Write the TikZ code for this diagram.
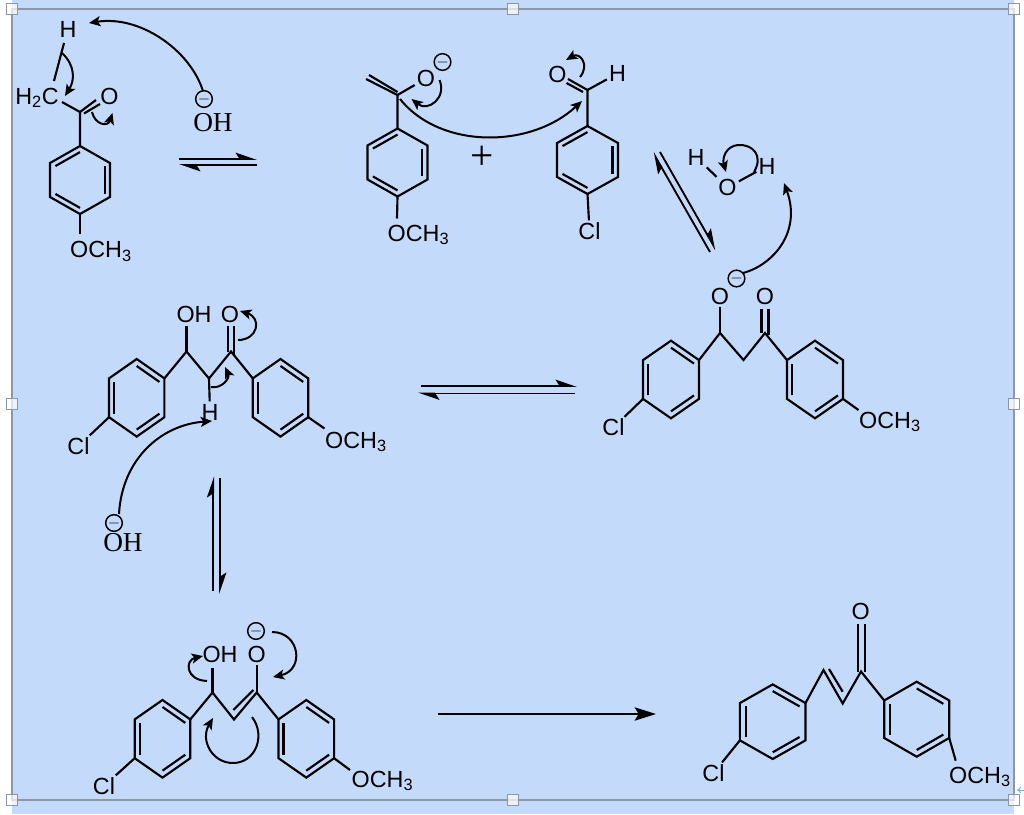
\documentclass[tikz,border=0pt]{standalone}
\usepackage{fontspec}
\setmainfont{Liberation Sans}
\newfontfamily\reagentfont{Liberation Serif}
\usepackage{xcolor}
\usepackage{tikz}
\usetikzlibrary{arrows.meta, calc, shapes.geometric}
\definecolor{panelblue}{HTML}{C4DAFA}
\definecolor{framegray}{HTML}{8C96A6}
\definecolor{cuemark}{HTML}{6FB0F5}
\tikzstyle{bond}    = [line width=1.6pt, line join=miter]
\tikzstyle{curly}   = [line width=1.5pt, -{Stealth[length=8.5pt,width=7.5pt,inset=2pt]}]
\tikzstyle{eqline}  = [line width=1.4pt, -{Stealth[harpoon,length=14pt,width=9.5pt,inset=3pt]}]
\tikzstyle{fwd}     = [line width=1.4pt, -{Stealth[length=16pt,width=10pt,inset=3pt]}]
\tikzset{atom/.style={font=\fontsize{17.5}{20}\selectfont, inner sep=1.5pt, text height=12.5pt, text depth=0pt}}
\tikzset{reagent/.style={font=\reagentfont\fontsize{20.5}{22}\selectfont, inner sep=0pt, text height=13.5pt, text depth=0pt}}
\tikzset{charge/.style={circle, draw, line width=1.1pt, inner sep=0pt, minimum size=12.5pt, font=\fontsize{12}{12}\selectfont}}
\tikzset{handle/.style={draw=framegray, line width=1pt, fill=white, fill opacity=.7, minimum size=8.5pt, inner sep=0pt}}
% ring: name, centre x, centre y, half width, half height, inner edges
\newcommand{\ring}[6]{
  \coordinate (#1) at (#2,#3);
  \coordinate (#1a) at (#2,#3-#5);
  \coordinate (#1b) at (#2+#4,#3-#5/2);
  \coordinate (#1c) at (#2+#4,#3+#5/2);
  \coordinate (#1d) at (#2,#3+#5);
  \coordinate (#1e) at (#2-#4,#3+#5/2);
  \coordinate (#1f) at (#2-#4,#3-#5/2);
  \draw[bond] (#1a) -- (#1b) -- (#1c) -- (#1d) -- (#1e) -- (#1f) -- cycle;
  \foreach \p/\q in {#6}
    \draw[bond] ($(#1)!.82!(#1\p)$) -- ($(#1)!.82!(#1\q)$);
}

\begin{document}
\begin{tikzpicture}[x=0.75pt, y=-0.75pt]
  \useasboundingbox (0,0) rectangle (1024,814);
  % Panel
  \fill[white] (0,0) rectangle (1024,814);
  \fill[panelblue] (12,0) rectangle (1014,814);
  \draw[framegray, line width=1.1pt] (12,9) rectangle (1014,800);
  \foreach \hx/\hy [count=\i] in {12/9,513/9,1014/9,12/404,1014/404,12/800,513/800,1014/800}
      \node[handle] (handle\i) at (\hx,\hy) {};
  \coordinate (cuea) at (1024,790); \coordinate (cueb) at (1017,790);
  \draw[cuemark, line width=.7pt, -{To[length=3pt,width=5pt]}] (cuea) -- (cueb);

  % Molecule 1: acetophenone
  \ring{ra}{80}{180}{30}{34}{f/a,b/c,d/e}
  \coordinate (ca) at (80,112); \coordinate (caq) at (62,102);
  \coordinate (caoa) at (96,100); \coordinate (caob) at (84,113.5); \coordinate (caoc) at (100,104);
  \coordinate (hba) at (54,81); \coordinate (hbb) at (64,43); \coordinate (mea) at (80,234);
  \node[atom] (hatom) at (68,29) {H};
  \node[atom] (chtwo) at (37,96) {H\textsubscript{2}C};
  \node[atom] (oa) at (109.5,96) {O};
  \node[atom] (ocha) at (101,249.5) {OCH\textsubscript{3}};
  \draw[bond] (raa) -- (ca) -- (caq);
  \draw[bond] (ca) -- (caoa); \draw[bond] (caob) -- (caoc);
  \draw[bond] (hba) -- (hbb);
  \draw[bond] (rad) -- (mea);
  % Hydroxide 1
  \node[charge] (mina) at (204,99) {$-$};
  \node[reagent] (ohr) at (213,122) {OH};
  \coordinate (oharr) at (203,91); \coordinate (harr) at (89,23);
  \draw[curly] (oharr) .. controls (190,50) and (140,15) .. (harr);
  \coordinate (cha) at (62,53); \coordinate (chb) at (65,96);
  \draw[curly] (cha) .. controls (75,65) and (75,80) .. (chb);
  \coordinate (coa) at (92,112); \coordinate (cob) at (112.5,113);
  \draw[curly] (coa) .. controls (95,125) and (108,127) .. (cob);
  % Equilibrium 1
  \coordinate (eqa) at (179,159); \coordinate (eqb) at (257,159);
  \coordinate (eqc) at (257,165); \coordinate (eqd) at (179,165);
  \draw[eqline] (eqa) -- (eqb); \draw[eqline] (eqc) -- (eqd);

  % Molecule 2: enolate
  \ring{rb}{397.5}{162.5}{30}{34}{f/a,b/c,d/e}
  \coordinate (cb) at (397.5,95); \coordinate (cba) at (366,79); \coordinate (cbb) at (369,75); \coordinate (cbc) at (397.5,92);
  \coordinate (meb) at (397,218.5);
  \node[atom] (ob) at (426,78.5) {O};
  \node[charge] (minb) at (442.5,62) {$-$};
  \node[atom] (ochb) at (418.5,233) {OCH\textsubscript{3}};
  \draw[bond] (rba) -- (cb) -- (cba); \draw[bond] (cbc) -- (cbb);
  \draw[bond] (cb) -- (ob);
  \draw[bond] (rbd) -- (meb);
  \coordinate (oba) at (439.5,80); \coordinate (obb) at (411.5,99);
  \draw[curly] (oba) .. controls (447,98) and (428,112) .. (obb);
  \coordinate (lga) at (400,99); \coordinate (lgb) at (582,101);
  \draw[curly] (lga) .. controls (440,149) and (530,149) .. (lgb);
  \node[font=\reagentfont\fontsize{31}{31}\selectfont, inner sep=0pt] (plus) at (482.5,158) {+};

  % Molecule 3: aldehyde
  \ring{rc}{587.5}{160}{30.5}{34}{f/a,b/c,d/e}
  \coordinate (cc) at (587.5,90); \coordinate (cca) at (568,79);
  \coordinate (ccb) at (566.5,83); \coordinate (ccc) at (583,92);
  \node[atom] (oc) at (557.5,74.5) {O};
  \node[atom] (hal) at (617.5,73.5) {H};
  \node[atom] (clc) at (589.5,231) {Cl};
  \draw[bond] (rca) -- (cc) -- (cca); \draw[bond] (ccb) -- (ccc);
  \draw[bond] (cc) -- (hal);
  \draw[bond] (rcd) -- (clc);
  \coordinate (oca) at (580,77); \coordinate (ocb) at (566,60);
  \draw[curly] (oca) .. controls (590,65) and (580,52) .. (ocb);
  % Equilibrium 2
  \coordinate (eqe) at (710,252); \coordinate (eqf) at (653,152.5);
  \coordinate (eqg) at (660,152); \coordinate (eqh) at (716,250);
  \draw[eqline] (eqe) -- (eqf); \draw[eqline] (eqg) -- (eqh);
  % Water
  \node[atom] (wha) at (696,157) {H};
  \node[atom] (whb) at (767,166) {H};
  \node[atom] (wo) at (727.5,187.5) {O};
  \draw[bond] (wha) -- (wo); \draw[bond] (wo) -- (whb);
  \coordinate (wa) at (754,172); \coordinate (wb) at (738,145); \coordinate (wc) at (726,172);
  \draw[curly] (wa) .. controls (764,155) and (752,144) .. (wb) .. controls (726,146) and (722,158) .. (wc);

  % Molecule 4: aldol alkoxide
  \ring{rd}{671}{379.5}{28}{38.8}{e/f,a/b,c/d}
  \ring{re}{815}{379.5}{28}{38.8}{e/f,a/b,c/d}
  \coordinate (da) at (720,333); \coordinate (db) at (743.5,360); \coordinate (dc) at (765,333);
  \coordinate (dca) at (761.5,333); \coordinate (dcb) at (761.5,308.5);
  \coordinate (dcc) at (768.5,335); \coordinate (dcd) at (768.5,308.5);
  \coordinate (mee) at (858.5,410);
  \node[atom] (od) at (720,296) {O};
  \node[atom] (oe) at (765,296) {O};
  \node[charge] (mind) at (736.5,278.5) {$-$};
  \node[atom] (cld) at (613.5,427.5) {Cl};
  \node[atom] (oche) at (890,420) {OCH\textsubscript{3}};
  \draw[bond] (rdb) -- (da) -- (db) -- (dc) -- (ref);
  \draw[bond] (da) -- (od);
  \draw[bond] (dca) -- (dcb); \draw[bond] (dcc) -- (dcd);
  \draw[bond] (rde) -- (cld);
  \draw[bond] (rec) -- (mee);
  \coordinate (oda) at (743,273); \coordinate (odb) at (784,183);
  \draw[curly] (oda) .. controls (773,265) and (802,232) .. (odb);
  % Equilibrium 3
  \coordinate (eqi) at (421,386); \coordinate (eqj) at (577,386);
  \coordinate (eqk) at (575,393.5); \coordinate (eql) at (418,393.5);
  \draw[eqline] (eqi) -- (eqj); \draw[eqline] (eqk) -- (eql);

  % Molecule 5: aldol
  \ring{rf}{136.7}{397.8}{27.7}{38.8}{e/f,a/b,c/d}
  \ring{rg}{280.5}{397.8}{27.7}{38.8}{e/f,a/b,c/d}
  \coordinate (fa) at (186.5,351.5); \coordinate (fb) at (209,378.5); \coordinate (fc) at (231,351.5);
  \coordinate (fca) at (227.8,351.5); \coordinate (fcb) at (227.8,326);
  \coordinate (fcc) at (234,355); \coordinate (fcd) at (234,326);
  \coordinate (foh) at (186.5,326); \coordinate (fme) at (324.5,428.5);
  \node[atom] (ohf) at (194,314) {OH};
  \node[atom] (of) at (230,314) {O};
  \node[atom] (hf) at (210,412) {H};
  \node[atom] (clf) at (78.5,446) {Cl};
  \node[atom] (ochg) at (356,440) {OCH\textsubscript{3}};
  \draw[bond] (rfb) -- (fa) -- (fb) -- (fc) -- (rgf);
  \draw[bond] (fa) -- (foh);
  \draw[bond] (fca) -- (fcb); \draw[bond] (fcc) -- (fcd);
  \draw[bond] (fb) -- (hf);
  \draw[bond] (rfe) -- (clf);
  \draw[bond] (rgc) -- (fme);
  \coordinate (ofa) at (238,340); \coordinate (ofb) at (240,311);
  \draw[curly] (ofa) .. controls (258,340) and (262,318) .. (ofb);
  \coordinate (hfa) at (211,387); \coordinate (hfb) at (225,367);
  \draw[curly] (hfa) .. controls (222,389) and (230,378) .. (hfb);
  % Hydroxide 2
  \node[charge] (minf) at (114,523) {$-$};
  \node[reagent] (ohb) at (123,542.5) {OH};
  \coordinate (ohbarr) at (119,514); \coordinate (hbarr) at (212,421);
  \draw[curly] (ohbarr) .. controls (122,460) and (160,425) .. (hbarr);
  % Equilibrium 4
  \coordinate (eqm) at (213.3,590.5); \coordinate (eqn) at (213.3,476);
  \coordinate (eqo) at (220,478); \coordinate (eqp) at (220,594);
  \draw[eqline] (eqm) -- (eqn); \draw[eqline] (eqo) -- (eqp);

  % Molecule 6: enolate of the aldol
  \ring{rh}{162.5}{738.8}{27.8}{38.8}{e/f,a/b,c/d}
  \ring{ri}{306.3}{738.8}{27.8}{38.8}{e/f,a/b,c/d}
  \coordinate (ha) at (212.5,692.5); \coordinate (hb) at (234,719.5); \coordinate (hc) at (256.7,692.5);
  \coordinate (hda) at (233.3,710); \coordinate (hdb) at (253.3,690);
  \coordinate (hoh) at (212.5,667.5); \coordinate (hme) at (350,770);
  \node[atom] (ohh) at (220,654) {OH};
  \node[atom] (oi) at (256.7,654) {O};
  \node[charge] (mini) at (256,631) {$-$};
  \node[atom] (clh) at (104,786) {Cl};
  \node[atom] (ochi) at (382.5,779) {OCH\textsubscript{3}};
  \draw[bond] (rhb) -- (ha) -- (hb) -- (hc) -- (rif);
  \draw[bond] (hda) -- (hdb);
  \draw[bond] (ha) -- (hoh);
  \draw[bond] (hc) -- (oi);
  \draw[bond] (rhe) -- (clh);
  \draw[bond] (ric) -- (hme);
  \coordinate (oia) at (272,632); \coordinate (oib) at (273,677);
  \draw[curly] (oia) .. controls (300,632) and (305,670) .. (oib);
  \coordinate (oga) at (207,681); \coordinate (ogb) at (203,656);
  \draw[curly] (oga) .. controls (185,680) and (185,660) .. (ogb);
  \coordinate (bga) at (252,717); \coordinate (bgb) at (233,763); \coordinate (bgc) at (213,718);
  \draw[curly] (bga) .. controls (266,735) and (256,763) .. (bgb) .. controls (212,763) and (200,740) .. (bgc);
  % Elimination arrow
  \coordinate (fwa) at (438,714); \coordinate (fwb) at (656,714);
  \draw[fwd] (fwa) -- (fwb);

  % Molecule 7: chalcone
  \ring{rj}{772.7}{721.7}{32.8}{37.3}{e/f,a/b,c/d}
  \ring{rk}{916.7}{719.2}{32.5}{37.5}{e/f,a/b,c/d}
  \coordinate (ja) at (823.5,670); \coordinate (jb) at (842.7,703.5); \coordinate (jc) at (861,671.5);
  \coordinate (jda) at (829,669); \coordinate (jdb) at (842.7,691.7);
  \coordinate (jea) at (857.7,672); \coordinate (jeb) at (857.7,623.5);
  \coordinate (jec) at (864.7,672); \coordinate (jed) at (864.7,623.5);
  \coordinate (jme) at (955.7,760.7);
  \node[atom] (oj) at (860.7,610.7) {O};
  \node[atom] (clj) at (713.5,773) {Cl};
  \node[atom] (ochk) at (980,775) {OCH\textsubscript{3}};
  \draw[bond] (rjb) -- (ja) -- (jb) -- (jc) -- (rkf);
  \draw[bond] (jda) -- (jdb);
  \draw[bond] (jea) -- (jeb); \draw[bond] (jec) -- (jed);
  \draw[bond] (rje) -- (clj);
  \draw[bond] (rkc) -- (jme);
\end{tikzpicture}
\end{document}
